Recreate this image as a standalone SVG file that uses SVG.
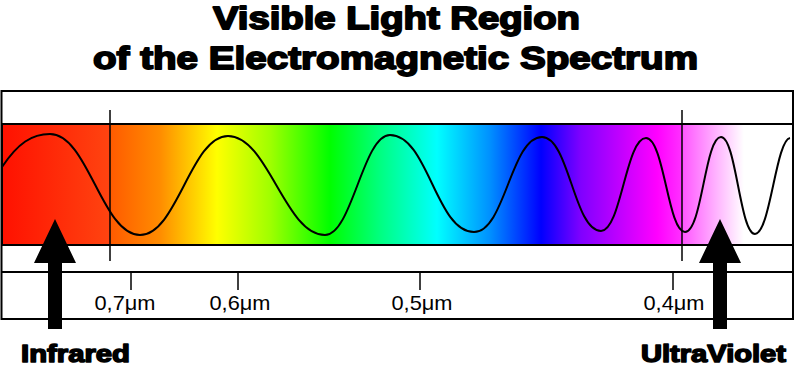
<svg xmlns="http://www.w3.org/2000/svg" width="794" height="366" viewBox="0 0 794 366">
  <style>
    .heavy { font-family: "Liberation Sans", Arial, sans-serif; font-weight: bold; fill: #000; stroke: #000; stroke-linejoin: round; }
    .tick { font-family: "Liberation Sans", Arial, sans-serif; font-size: 21px; fill: #000; }
    .ln { stroke: #000; fill: none; }
  </style>
  <defs>
    <linearGradient id="spec" gradientUnits="userSpaceOnUse" x1="0" y1="0" x2="794" y2="0">
      <stop offset="0" stop-color="#ff1000"/>
      <stop offset="0.1385" stop-color="#ff4410"/>
      <stop offset="0.1386" stop-color="#ff5a00"/>
      <stop offset="0.2015" stop-color="#ff8c00"/>
      <stop offset="0.2733" stop-color="#ffff00"/>
      <stop offset="0.34" stop-color="#a0ff00"/>
      <stop offset="0.4156" stop-color="#00ff00"/>
      <stop offset="0.4786" stop-color="#00ff80"/>
      <stop offset="0.5504" stop-color="#00ffff"/>
      <stop offset="0.6171" stop-color="#0090ff"/>
      <stop offset="0.6814" stop-color="#0000ff"/>
      <stop offset="0.7317" stop-color="#8000ff"/>
      <stop offset="0.8275" stop-color="#ff00ff"/>
      <stop offset="0.8589" stop-color="#ff30ff"/>
      <stop offset="0.859" stop-color="#ff55ff"/>
      <stop offset="0.937" stop-color="#ffffff"/>
      <stop offset="1" stop-color="#ffffff"/>
    </linearGradient>
  </defs>

  <g id="title">
    <text class="heavy" x="396.5" y="29" font-size="31" stroke-width="1.8" text-anchor="middle" textLength="367" lengthAdjust="spacingAndGlyphs">Visible Light Region</text>
    <text class="heavy" x="395.5" y="69" font-size="32" stroke-width="1.8" text-anchor="middle" textLength="605" lengthAdjust="spacingAndGlyphs">of the Electromagnetic Spectrum</text>
  </g>

  <g id="frame">
    <rect x="1.5" y="91" width="791.5" height="228" fill="#fff" stroke="#000" stroke-width="2"/>
  </g>

  <g id="spectrum-band">
    <rect x="2" y="124" width="791" height="121" fill="url(#spec)" stroke="#000" stroke-width="2"/>
  </g>

  <g id="wave">
    <path class="ln" stroke-width="2" d="M 2,167 C 18,143 32,134 50,134 C 88,134 102,235 140,235 C 177,235 191,136 228,136 C 268,136 285,235 325,235 C 352,235 363,135 390,135 C 428,135 436,232 474,232 C 505,232 511,137 542,137 C 569,137 574,231 601,231 C 621,231 626,138 646,138 C 664,138 668,232 685,232 C 702,232 705,137 721,137 C 736,137 740,234 755,234 C 770,234 776,140 790,138"/>
  </g>

  <g id="boundaries">
    <line class="ln" stroke-width="1.5" x1="110" y1="110" x2="110" y2="261"/>
    <line class="ln" stroke-width="1.5" x1="682" y1="110" x2="682" y2="261"/>
  </g>

  <g id="axis">
    <line class="ln" stroke-width="2" x1="2" y1="272" x2="793" y2="272"/>
    <line class="ln" stroke-width="1.5" x1="131" y1="272" x2="131" y2="290"/>
    <line class="ln" stroke-width="1.5" x1="238" y1="272" x2="238" y2="290"/>
    <line class="ln" stroke-width="1.5" x1="420" y1="272" x2="420" y2="290"/>
    <line class="ln" stroke-width="1.5" x1="673" y1="272" x2="673" y2="290"/>
    <text class="tick" x="125" y="310" text-anchor="middle" textLength="61" lengthAdjust="spacingAndGlyphs">0,7μm</text>
    <text class="tick" x="240" y="310" text-anchor="middle" textLength="61" lengthAdjust="spacingAndGlyphs">0,6μm</text>
    <text class="tick" x="422" y="310" text-anchor="middle" textLength="61" lengthAdjust="spacingAndGlyphs">0,5μm</text>
    <text class="tick" x="674" y="310" text-anchor="middle" textLength="61" lengthAdjust="spacingAndGlyphs">0,4μm</text>
  </g>

  <g id="infrared">
    <polygon points="55,219 76,263 62,263 62,329 48,329 48,263 34,263" fill="#000"/>
    <text class="heavy" x="21" y="362" font-size="24" stroke-width="1.5" textLength="109" lengthAdjust="spacingAndGlyphs">Infrared</text>
  </g>

  <g id="ultraviolet">
    <polygon points="720,219 741,263 727,263 727,329 713,329 713,263 699,263" fill="#000"/>
    <text class="heavy" x="641" y="362" font-size="24" stroke-width="1.5" textLength="145" lengthAdjust="spacingAndGlyphs">UltraViolet</text>
  </g>
</svg>
